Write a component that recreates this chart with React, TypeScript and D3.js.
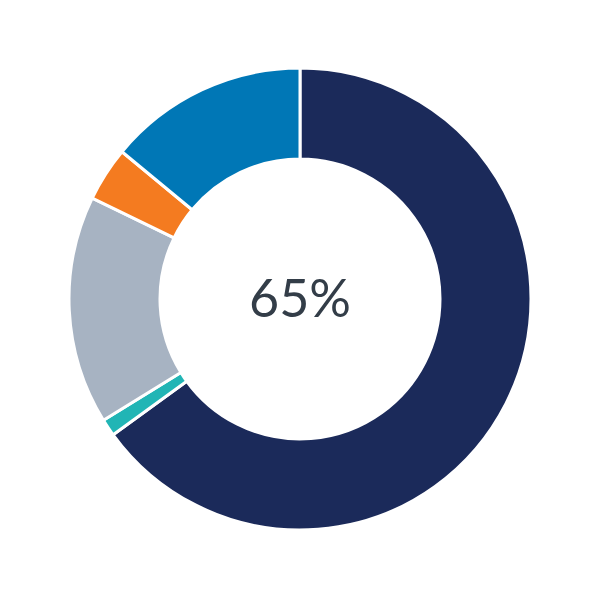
import { useEffect, useRef } from 'react';
import * as d3 from 'd3';

const categories = ['A', 'B', 'C', 'D', 'E'];
const values = [65, 1.2, 16.0, 3.8, 14];
const colors = ['#1b2a5a', '#21b5b5', '#a7b3c2', '#f47b20', '#0077b6'];
const centerLabel = '65%';

export default function App() {
  const svgRef = useRef<SVGSVGElement>(null);

  useEffect(() => {
    if (!svgRef.current) return;
    const svg = d3.select(svgRef.current);
    svg.selectAll('*').remove();

    const width = 600;
    const height = 599;
    const cx = 300;
    const cy = 299;
    const outer = 231;
    const inner = 140;

    const pie = d3.pie<number>().sort(null).value((d) => d);
    const arc = d3.arc<d3.PieArcDatum<number>>().innerRadius(inner).outerRadius(outer);

    const g = svg.append('g').attr('transform', `translate(${cx},${cy})`);

    g.selectAll('path')
      .data(pie(values))
      .join('path')
      .attr('d', arc)
      .attr('fill', (_, i) => colors[i])
      .attr('stroke', '#fff')
      .attr('stroke-width', 3)
      .attr('stroke-linejoin', 'round')
      .append('title')
      .text((_, i) => categories[i]);

    g.append('text')
      .attr('text-anchor', 'middle')
      .attr('dy', '0.35em')
      .attr('fill', '#333d48')
      .attr('font-family', 'Lato, sans-serif')
      .attr('font-size', 52)
      .text(centerLabel);

    svg.attr('width', width).attr('height', height);
  }, []);

  return (
    <div style={{ position: 'absolute', left: 0, top: 0 }}>
      <svg ref={svgRef} style={{ display: 'block', background: '#fff' }} />
    </div>
  );
}
